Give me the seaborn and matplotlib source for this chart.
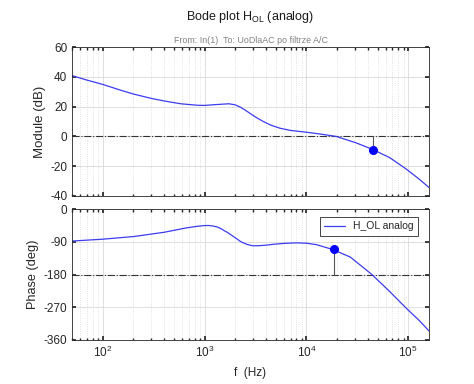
import numpy as np
import pandas as pd
import matplotlib
matplotlib.use("Agg")
import matplotlib.pyplot as plt
import matplotlib.ticker as mticker
import seaborn as sns

# ---- data ----
mag_freq = [50, 70, 100, 150, 204, 300, 400, 583, 850, 1000, 1330, 1730, 2000, 2250, 2500,
            2820, 3200, 3800, 4500, 5500, 7000, 10000, 14000, 19600, 31000, 45000, 66000,
            96000, 130000, 160000]
mag_db = [40.8, 37.8, 34.9, 31.0, 28.3, 25.5, 23.8, 21.9, 20.9, 20.8, 21.4, 21.9, 21.2, 19.6, 17.7,
          15.3, 12.8, 9.9, 7.5, 5.5, 4.0, 2.8, 1.5, 0.0, -4.4, -8.8, -14.3,
          -22.0, -29.0, -34.3]

ph_freq = [50, 100, 204, 400, 660, 850, 1000, 1100, 1230, 1350, 1450, 1550, 1670, 1800, 2000,
           2100, 2250, 2400, 2600, 2800, 3000, 3300, 4000, 4740, 6000, 7950, 10000, 12600,
           18000, 27000, 44000, 66000, 96000, 130000, 160000]
ph_deg = [-88, -83, -75.5, -64, -52, -47.5, -45.5, -45.3, -47, -50, -54, -59, -64, -70, -79,
          -83, -89, -93, -97, -99.5, -101, -101, -99.5, -97, -94.5, -93, -94, -98,
          -111, -132, -180, -227, -273, -308, -335]

gm_freq, gm_val = 45000, -8.8     # gain-margin marker (magnitude plot)
pm_freq, pm_val = 18500, -111     # phase-margin marker (phase plot)

title_main = "Bode plot H$_{\\mathrm{OL}}$ (analog)"
subtitle = "From: In(1)  To: UoDlaAC po filtrze A/C"
legend_label = "H_OL analog"

mag_df = pd.DataFrame({"f": mag_freq, "val": mag_db})
ph_df = pd.DataFrame({"f": ph_freq, "val": ph_deg})

sns.set_theme(style="ticks")
plt.rcParams["font.family"] = ["Liberation Sans", "DejaVu Sans"]
plt.rcParams["mathtext.fontset"] = "custom"
plt.rcParams["mathtext.rm"] = "Liberation Sans"
plt.rcParams["axes.unicode_minus"] = False

fig = plt.figure(figsize=(4.74, 3.84), dpi=100)
ax1 = fig.add_axes([0.152, 0.4896, 0.753, 0.388])
ax2 = fig.add_axes([0.152, 0.1146, 0.753, 0.3411])

line_c = "#3c3cf0"
xmin, xmax = 50, 160000

for ax in (ax1, ax2):
    ax.set_xscale("log")
    ax.set_xlim(xmin, xmax)
    ax.grid(True, which="major", color="#d9d9d9", lw=0.6, ls="-")
    ax.grid(True, which="minor", axis="x", color="#d9d9d9", lw=0.6, ls=":")
    ax.tick_params(which="both", direction="in", top=True, right=True,
                   labelsize=8.5, colors="#262626", length=3)
    ax.tick_params(which="minor", length=1.8)
    ax.xaxis.set_major_locator(mticker.LogLocator(base=10, numticks=10))
    ax.xaxis.set_minor_locator(mticker.LogLocator(base=10, subs=np.arange(2, 10), numticks=20))
    for s in ax.spines.values():
        s.set_color("#262626")
        s.set_linewidth(0.6)
    ax.set_axisbelow(True)

# magnitude
sns.lineplot(data=mag_df, x="f", y="val", ax=ax1, color=line_c, lw=0.9, legend=False)
ax1.axhline(0, color="#333333", lw=0.8, ls="-.", zorder=1)
ax1.plot([gm_freq, gm_freq], [0, gm_val], color="#555555", lw=0.8, zorder=2)
ax1.plot([gm_freq], [gm_val], "o", color="#0000ff", ms=5.5, zorder=4)
ax1.set_ylim(-40, 60)
ax1.set_yticks([-40, -20, 0, 20, 40, 60])
ax1.tick_params(axis="x", which="both", labelbottom=False)
ax1.set_xlabel("")
ax1.set_ylabel("Module (dB)", fontsize=9.5, color="#262626", labelpad=3)

# phase
sns.lineplot(data=ph_df, x="f", y="val", ax=ax2, color=line_c, lw=0.9, label=legend_label)
ax2.axhline(-180, color="#333333", lw=0.8, ls="-.", zorder=1)
ax2.plot([pm_freq, pm_freq], [-180, pm_val], color="#555555", lw=0.8, zorder=2)
ax2.plot([pm_freq], [pm_val], "o", color="#0000ff", ms=5.5, zorder=4)
ax2.set_ylim(-360, 0)
ax2.set_yticks([-360, -270, -180, -90, 0])
ax2.set_xlabel("f  (Hz)", fontsize=8.5, color="#262626", labelpad=5)
ax2.set_ylabel("Phase (deg)", fontsize=9.2, color="#262626", labelpad=3)
leg = ax2.legend(loc="upper right", bbox_to_anchor=(0.969, 0.937), borderaxespad=0,
                 fontsize=7.5, fancybox=False, framealpha=1, edgecolor="#262626",
                 handlelength=2.0, borderpad=0.4)
leg.get_frame().set_linewidth(0.6)

fig.text(0.5285, 0.955, title_main, ha="center", va="center", fontsize=9, color="#1a1a1a")
fig.text(0.5285, 0.895, subtitle, ha="center", va="center", fontsize=6.4, color="#808080")

fig.savefig("out.png", dpi=100)
